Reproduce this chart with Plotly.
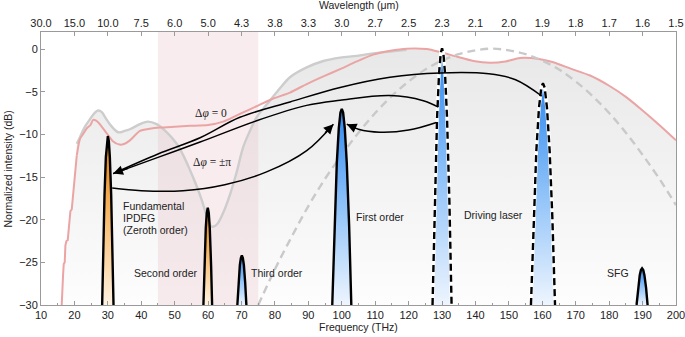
import plotly.graph_objects as go

FONT = "Liberation Sans, Arial, Helvetica, sans-serif"
SERIF = "Liberation Serif, DejaVu Serif, serif"

# ---------------- axes ----------------
x_range = [10, 200]
y_range = [-30, 2]
freq_ticks = [10, 20, 30, 40, 50, 60, 70, 80, 90, 100, 110, 120, 130, 140, 150, 160, 170, 180, 190, 200]
wl_labels = ["30.0", "15.0", "10.0", "7.5", "6.0", "5.0", "4.3", "3.8", "3.3", "3.0",
             "2.7", "2.5", "2.3", "2.1", "2.0", "1.9", "1.8", "1.7", "1.6", "1.5"]
db_ticks = [-30, -25, -20, -15, -10, -5, 0]
band = [45, 75]

# ---------------- broad spectra ----------------
pink_f = [16.2, 16.4, 16.6, 16.8, 17.1, 17.3, 17.6, 18.0, 18.5, 18.8, 19.2, 19.5, 20.0, 20.3, 20.7,
          21.2, 21.7, 22.7, 23.7, 24.8, 25.6, 26.5, 28.0, 29.7, 31.5, 33.5, 35.0, 36.6, 39.6, 42.5,
          45.6, 50.0, 54.6, 60.0, 64.5, 69.5, 74.5, 79.5, 84.5, 89.5, 94.5, 99.5, 104.5, 109.4,
          114.5, 119.4, 125.4, 129.4, 134.5, 139.4, 144.4, 149.0, 153.3, 159.4, 163.3, 168.5,
          174.3, 180.0, 185.0, 190.0, 195.0, 200.0]
pink_db = [-30, -27, -26.5, -25.2, -25, -23, -22.5, -22.4, -20.5, -19, -18.8, -17.6, -16, -14.5, -12.5,
           -11.3, -10.5, -9.9, -9.3, -8.9, -8.3, -8.4, -9.0, -9.9, -10.8, -11.2, -11.1, -10.7, -9.6, -9.35,
           -9.2, -9.1, -9.0, -8.9, -8.5, -7.6, -6.7, -5.8, -5.1, -4.1, -3.2, -2.35, -1.45, -0.65,
           -0.2, 0.05, 0.0, -0.35, -0.9, -1.4, -1.6, -1.45, -1.05, -1.2, -1.55, -2.3,
           -3.1, -4.3, -5.6, -7.2, -8.9, -10.7]
pink_steps = 14  # number of points in the jagged rising edge

gray_f = [20.7, 21.7, 23.0, 24.7, 26.0, 27.1, 28.2, 29.2, 31.0, 33.1, 35.0,
          36.6, 39.6, 42.0, 44.6, 47.5, 50.6, 52.5, 54.6, 56.5, 58.0, 59.5, 61.0, 62.5, 64.5, 66.6,
          68.5, 70.5, 72.5, 74.5, 78.5, 81.5, 84.5, 89.5, 94.5, 99.5, 104.5, 109.4, 114.5, 119.4]
gray_db = [-11.1, -10.3, -9.2, -8.2, -7.5, -7.2, -7.4, -8.0, -9.0, -9.75, -9.6,
           -9.4, -8.8, -8.5, -8.8, -9.7, -11.1, -12.4, -14.2, -16.0, -17.6, -19.4, -20.8, -20.6, -19.2, -17.0,
           -14.5, -11.5, -9.6, -8.0, -6.05, -4.6, -3.3, -2.15, -1.4, -1.0, -0.8, -0.5, -0.3, -0.1]

dash_f = [75, 80, 85, 90, 95, 100, 105, 110, 115, 120, 125, 130, 135, 140, 145, 150, 155, 160,
          165, 170, 175, 180, 185, 190, 195, 200]
dash_db = [-30, -25.8, -22.0, -18.4, -15.2, -12.4, -9.8, -7.5, -5.5, -3.8, -2.4, -1.35, -0.6, -0.15,
           0.05, -0.15, -0.6, -1.35, -2.4, -3.8, -5.5, -7.5, -9.8, -12.4, -15.2, -18.3]

# ---------------- narrow peaks ----------------
fund_f = [28.3, 28.6, 29.0, 29.4, 29.7, 30.0, 30.3, 30.6, 31.0, 31.4, 31.7]
fund_db = [-30, -23.6, -17.1, -12.7, -10.8, -10.2, -10.8, -12.7, -17.1, -23.6, -30]
second_f = [58.6, 58.9, 59.3, 59.6, 59.9, 60.2, 60.5, 60.9, 61.2]
second_db = [-30, -25.4, -21.0, -19.2, -18.6, -19.2, -21.0, -25.4, -30]
third_f = [68.75, 69.1, 69.5, 69.8, 70.1, 70.4, 70.7, 71.1, 71.45]
third_db = [-30, -27.4, -25.3, -24.5, -24.2, -24.5, -25.3, -27.4, -30]
first_f = [97.15, 97.8, 98.5, 99.1, 99.6, 100.0, 100.4, 100.9, 101.5, 102.2, 102.85]
first_db = [-30, -20.7, -13.4, -9.3, -7.45, -7.0, -7.45, -9.3, -13.4, -20.7, -30]
drive1_f = [127.15, 127.8, 128.5, 129.1, 129.6, 130.0, 130.4, 130.9, 131.5, 132.2, 132.85]
drive1_db = [-30, -17.9, -8.2, -2.9, -0.5, 0.1, -0.5, -2.9, -8.2, -17.9, -30]
drive2_f = [156.6, 157.4, 158.2, 159.0, 159.7, 160.2, 160.7, 161.4, 162.2, 163.0, 163.8]
drive2_db = [-30, -19.7, -12.0, -6.9, -4.5, -4.0, -4.5, -6.9, -12.0, -19.7, -30]
sfg_f = [188.2, 188.65, 189.15, 189.5, 189.85, 190.2, 190.55, 191.05, 191.5]
sfg_db = [-30, -28.0, -26.5, -25.9, -25.7, -25.9, -26.5, -28.0, -30]

# ---------------- arrows (paths) ----------------
arrA_f = [159.8, 152, 144, 129.4, 114.4, 99.5, 84.5, 69.5, 57.6, 45, 31.6]
arrA_db = [-5.5, -3.6, -2.9, -2.8, -3.3, -4.5, -6.2, -8.0, -10.4, -12.3, -14.6]
arrB_f = [128.9, 124.4, 114.4, 99.5, 89.5, 74.5, 57.6, 45, 31.6]
arrB_db = [-6.8, -6.05, -5.45, -6.0, -6.6, -8.4, -10.9, -12.7, -14.6]
arrC_f = [31.3, 40, 52.5, 65, 77.5, 89.5, 97.5]
arrC_db = [-16.3, -16.6, -16.6, -15.9, -14.4, -11.9, -8.8]
arrD_f = [128.3, 120, 111.4, 105, 101.5]
arrD_db = [-8.6, -9.5, -9.75, -9.4, -8.8]
heads = [  # tip_f, tip_db, tail_f, tail_db
    (31.6, -14.6, 36.5, -13.9),
    (97.5, -8.8, 94.6, -10.0),
    (101.5, -8.8, 104.6, -9.35),
]

labels = [  # text, f, db, anchor
    ("Fundamental", 33.8, -18.4, "left"),
    ("IPDFG", 33.8, -19.8, "left"),
    ("(Zeroth order)", 33.8, -21.25, "left"),
    ("Second order", 57.6, -26.2, "right"),
    ("Third order", 72.3, -26.2, "left"),
    ("First order", 103.7, -19.7, "left"),
    ("Driving laser", 136.1, -19.5, "left"),
    ("SFG", 186.5, -26.2, "right"),
]
phase_labels = [("Δ<i>φ</i> = 0", 60.8, -7.6), ("Δ<i>φ</i> = ±π", 61.1, -13.3)]

fig = go.Figure()

# gray filled envelope: pink rising edge, gray curve, then pink line at the top right
tail = [(f, d) for f, d in zip(pink_f, pink_db) if f > gray_f[-1]]
fill_f = pink_f[:pink_steps] + gray_f + [t[0] for t in tail] + [x_range[1], pink_f[0]]
fill_db = pink_db[:pink_steps] + gray_db + [t[1] for t in tail] + [y_range[0], y_range[0]]
fig.add_trace(go.Scatter(x=fill_f, y=fill_db, mode="lines", line=dict(width=0),
                         fill="toself", fillcolor="#eeeeee",
                         fillgradient=dict(type="vertical",
                                           colorscale=[[0, "#fdfdfd"], [1, "#e8e8e8"]]),
                         hoverinfo="skip", showlegend=False))

# pink band
fig.add_trace(go.Scatter(x=[band[0], band[1], band[1], band[0], band[0]],
                         y=[y_range[0], y_range[0], y_range[1], y_range[1], y_range[0]],
                         mode="lines", line=dict(width=0), fill="toself",
                         fillcolor="rgba(232,185,195,0.28)", hoverinfo="skip", showlegend=False))

fig.add_trace(go.Scatter(x=gray_f, y=gray_db, mode="lines", line=dict(color="#cdcdcd", width=2.4, shape="spline"),
                         hoverinfo="skip", showlegend=False))
fig.add_trace(go.Scatter(x=pink_f[:pink_steps + 1], y=pink_db[:pink_steps + 1], mode="lines",
                         line=dict(color="#eba4a4", width=2),
                         hoverinfo="skip", showlegend=False))
fig.add_trace(go.Scatter(x=pink_f[pink_steps:], y=pink_db[pink_steps:], mode="lines",
                         line=dict(color="#eba4a4", width=2, shape="spline", smoothing=0.6),
                         hoverinfo="skip", showlegend=False))
fig.add_trace(go.Scatter(x=dash_f, y=dash_db, mode="lines",
                         line=dict(color="#c9c9c9", width=2.4, dash="8px,5px", shape="spline"),
                         hoverinfo="skip", showlegend=False))

ORANGE = [[0, "#fff3e2"], [0.55, "#f8b867"], [1, "#e07a08"]]
BLUE = [[0, "#eef5fe"], [0.55, "#86bdf8"], [1, "#2f88ee"]]


def peak(xs, ys, cs, dashed=False):
    fig.add_trace(go.Scatter(x=xs, y=ys, mode="lines", line=dict(width=0), fill="toself",
                             fillcolor="#8fc0f5", fillgradient=dict(type="vertical", colorscale=cs),
                             hoverinfo="skip", showlegend=False))
    if dashed:
        fig.add_trace(go.Scatter(x=xs, y=ys, mode="lines", line=dict(color="white", width=3.5),
                                 hoverinfo="skip", showlegend=False))
        fig.add_trace(go.Scatter(x=xs, y=ys, mode="lines",
                                 line=dict(color="black", width=2.4, dash="7px,4px"),
                                 hoverinfo="skip", showlegend=False))
    else:
        fig.add_trace(go.Scatter(x=xs, y=ys, mode="lines", line=dict(color="black", width=2.4),
                                 hoverinfo="skip", showlegend=False))


peak(fund_f, fund_db, ORANGE)
peak(second_f, second_db, ORANGE)
peak(third_f, third_db, BLUE)
peak(first_f, first_db, BLUE)
peak(drive1_f, drive1_db, BLUE, dashed=True)
peak(drive2_f, drive2_db, BLUE, dashed=True)
peak(sfg_f, sfg_db, BLUE)

for xs, ys in [(arrA_f, arrA_db), (arrB_f, arrB_db), (arrC_f, arrC_db), (arrD_f, arrD_db)]:
    fig.add_trace(go.Scatter(x=xs, y=ys, mode="lines", line=dict(color="black", width=1.5, shape="spline"),
                             hoverinfo="skip", showlegend=False))

# invisible trace for the top (wavelength) axis
fig.add_trace(go.Scatter(x=x_range, y=[y_range[0], y_range[0]], xaxis="x2", mode="lines",
                         line=dict(width=0), hoverinfo="skip", showlegend=False))

ann = []
for tf, td, af, ad in heads:
    ann.append(dict(x=tf, y=td, ax=af, ay=ad, xref="x", yref="y", axref="x", ayref="y",
                    text="", showarrow=True, arrowhead=2, arrowsize=1.3, arrowwidth=1.5,
                    arrowcolor="black", standoff=0))
for t, f, d, anc in labels:
    ann.append(dict(x=f, y=d, xref="x", yref="y", text=t, showarrow=False, xanchor=anc,
                    yanchor="middle", font=dict(family=FONT, size=10.5, color="#222")))
for t, f, d in phase_labels:
    ann.append(dict(x=f, y=d, xref="x", yref="y", text=t, showarrow=False, xanchor="center",
                    yanchor="middle", font=dict(family=SERIF, size=11.5, color="#222")))
ann.append(dict(x=0.5, y=-0.082, xref="paper", yref="paper", text="Frequency (THz)", showarrow=False,
                xanchor="center", yanchor="middle", font=dict(family=FONT, size=10.5, color="#222")))
ann.append(dict(x=0.5, y=1.098, xref="paper", yref="paper", text="Wavelength (μm)", showarrow=False,
                xanchor="center", yanchor="middle", font=dict(family=FONT, size=10.5, color="#222")))
ann.append(dict(x=-0.052, y=0.5, xref="paper", yref="paper", text="Normalized intensity (dB)",
                showarrow=False, textangle=-90, xanchor="center", yanchor="middle",
                font=dict(family=FONT, size=10.5, color="#222")))

AX = "#9a9a9a"
fig.update_layout(
    template="none",
    width=685, height=337,
    margin=dict(l=41, r=9, t=32, b=32, autoexpand=False),
    paper_bgcolor="white", plot_bgcolor="white",
    font=dict(family=FONT, size=11, color="#222"),
    showlegend=False,
    annotations=ann,
    xaxis=dict(range=x_range, tickvals=freq_ticks, ticks="inside", ticklen=4, tickcolor=AX,
               showline=True, linecolor=AX, linewidth=1, showgrid=False, zeroline=False,
               automargin=False, ticklabeloverflow="allow",
               minor=dict(dtick=5, tick0=10, ticks="inside", ticklen=2.5, tickcolor=AX, showgrid=False),
               tickfont=dict(family=FONT, size=11, color="#222")),
    xaxis2=dict(range=x_range, overlaying="x", side="top", tickvals=freq_ticks, ticktext=wl_labels,
                ticks="inside", ticklen=4, tickcolor=AX, showline=True, linecolor=AX, linewidth=1,
                showgrid=False, zeroline=False, automargin=False, ticklabeloverflow="allow",
                tickfont=dict(family=FONT, size=11, color="#222")),
    yaxis=dict(range=y_range, tickvals=db_ticks, ticks="inside", ticklen=4, tickcolor=AX,
               showline=True, linecolor=AX, linewidth=1, mirror=True, showgrid=False, zeroline=False,
               automargin=False, tickfont=dict(family=FONT, size=11, color="#222")),
)

fig.write_html("out.html", config={"displayModeBar": False},
               post_script="document.body.style.margin='0';document.body.style.padding='0';")
